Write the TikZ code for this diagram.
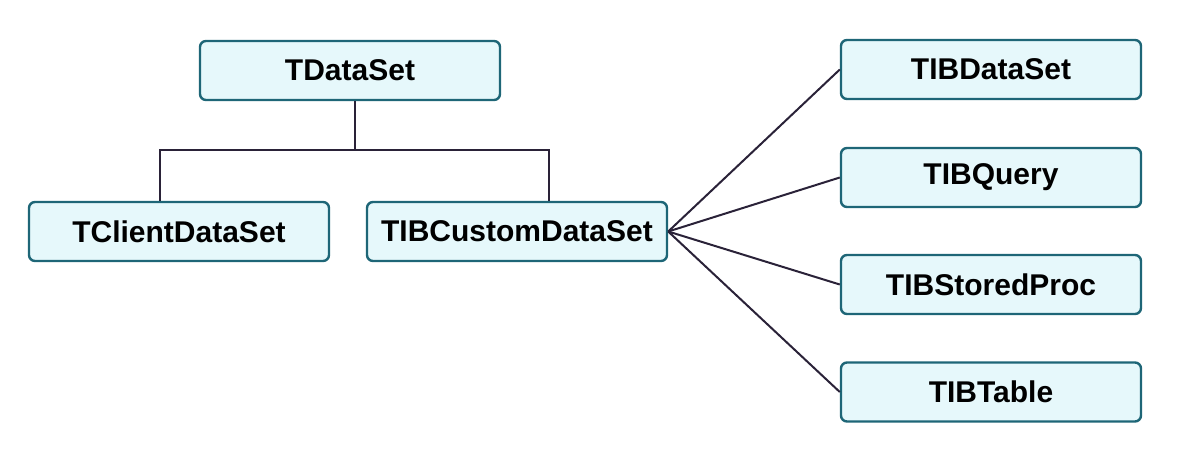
\documentclass[tikz,border=0pt]{standalone}
\usepackage{fontspec}
\setmainfont{Liberation Sans}
\usetikzlibrary{positioning}
\definecolor{boxfill}{HTML}{E6F8FB}
\definecolor{boxline}{HTML}{1E6677}
\definecolor{wire}{HTML}{2A2238}
\tikzset{
x=0.5pt, y=-0.5pt, % pixel grid of the reference
class/.style={draw=boxline, line width=1.2pt, fill=boxfill, rounded corners=3pt,
  minimum width=150pt, minimum height=29.5pt, font=\bfseries\fontsize{15}{17}\selectfont}, % every class box
link/.style={draw=wire, line width=1pt}, % the connectors
}
\begin{document}
\begin{tikzpicture}
      \useasboundingbox (0,0) rectangle (1200,456);
      \node[class] (ds) at (350,70.5) {TDataSet};
      \node[class] (cds) at (179,231.5) {TClientDataSet};
      \node[class] (ibc) at (517,231.5) {TIBCustomDataSet};
      \node[class] (ibds) at (991,69.5) {TIBDataSet};
      \node[class] (ibq) at (991,177.5) {TIBQuery};
      \node[class] (ibsp) at (991,284.5) {TIBStoredProc};
      \node[class] (ibt) at (991,392) {TIBTable};
      \coordinate (split) at (355,150);
      \coordinate (left) at (160,150);
      \coordinate (right) at (549,150);
      \draw[link] (ds.south -| split) -- (split);
      \draw[link] (cds.north -| left) -- (left) -- (right) -- (ibc.north -| right);
      \foreach \n in {ibds, ibq, ibsp, ibt}
        \draw[link] (ibc.east) -- (\n.west);
\end{tikzpicture}
\end{document}
